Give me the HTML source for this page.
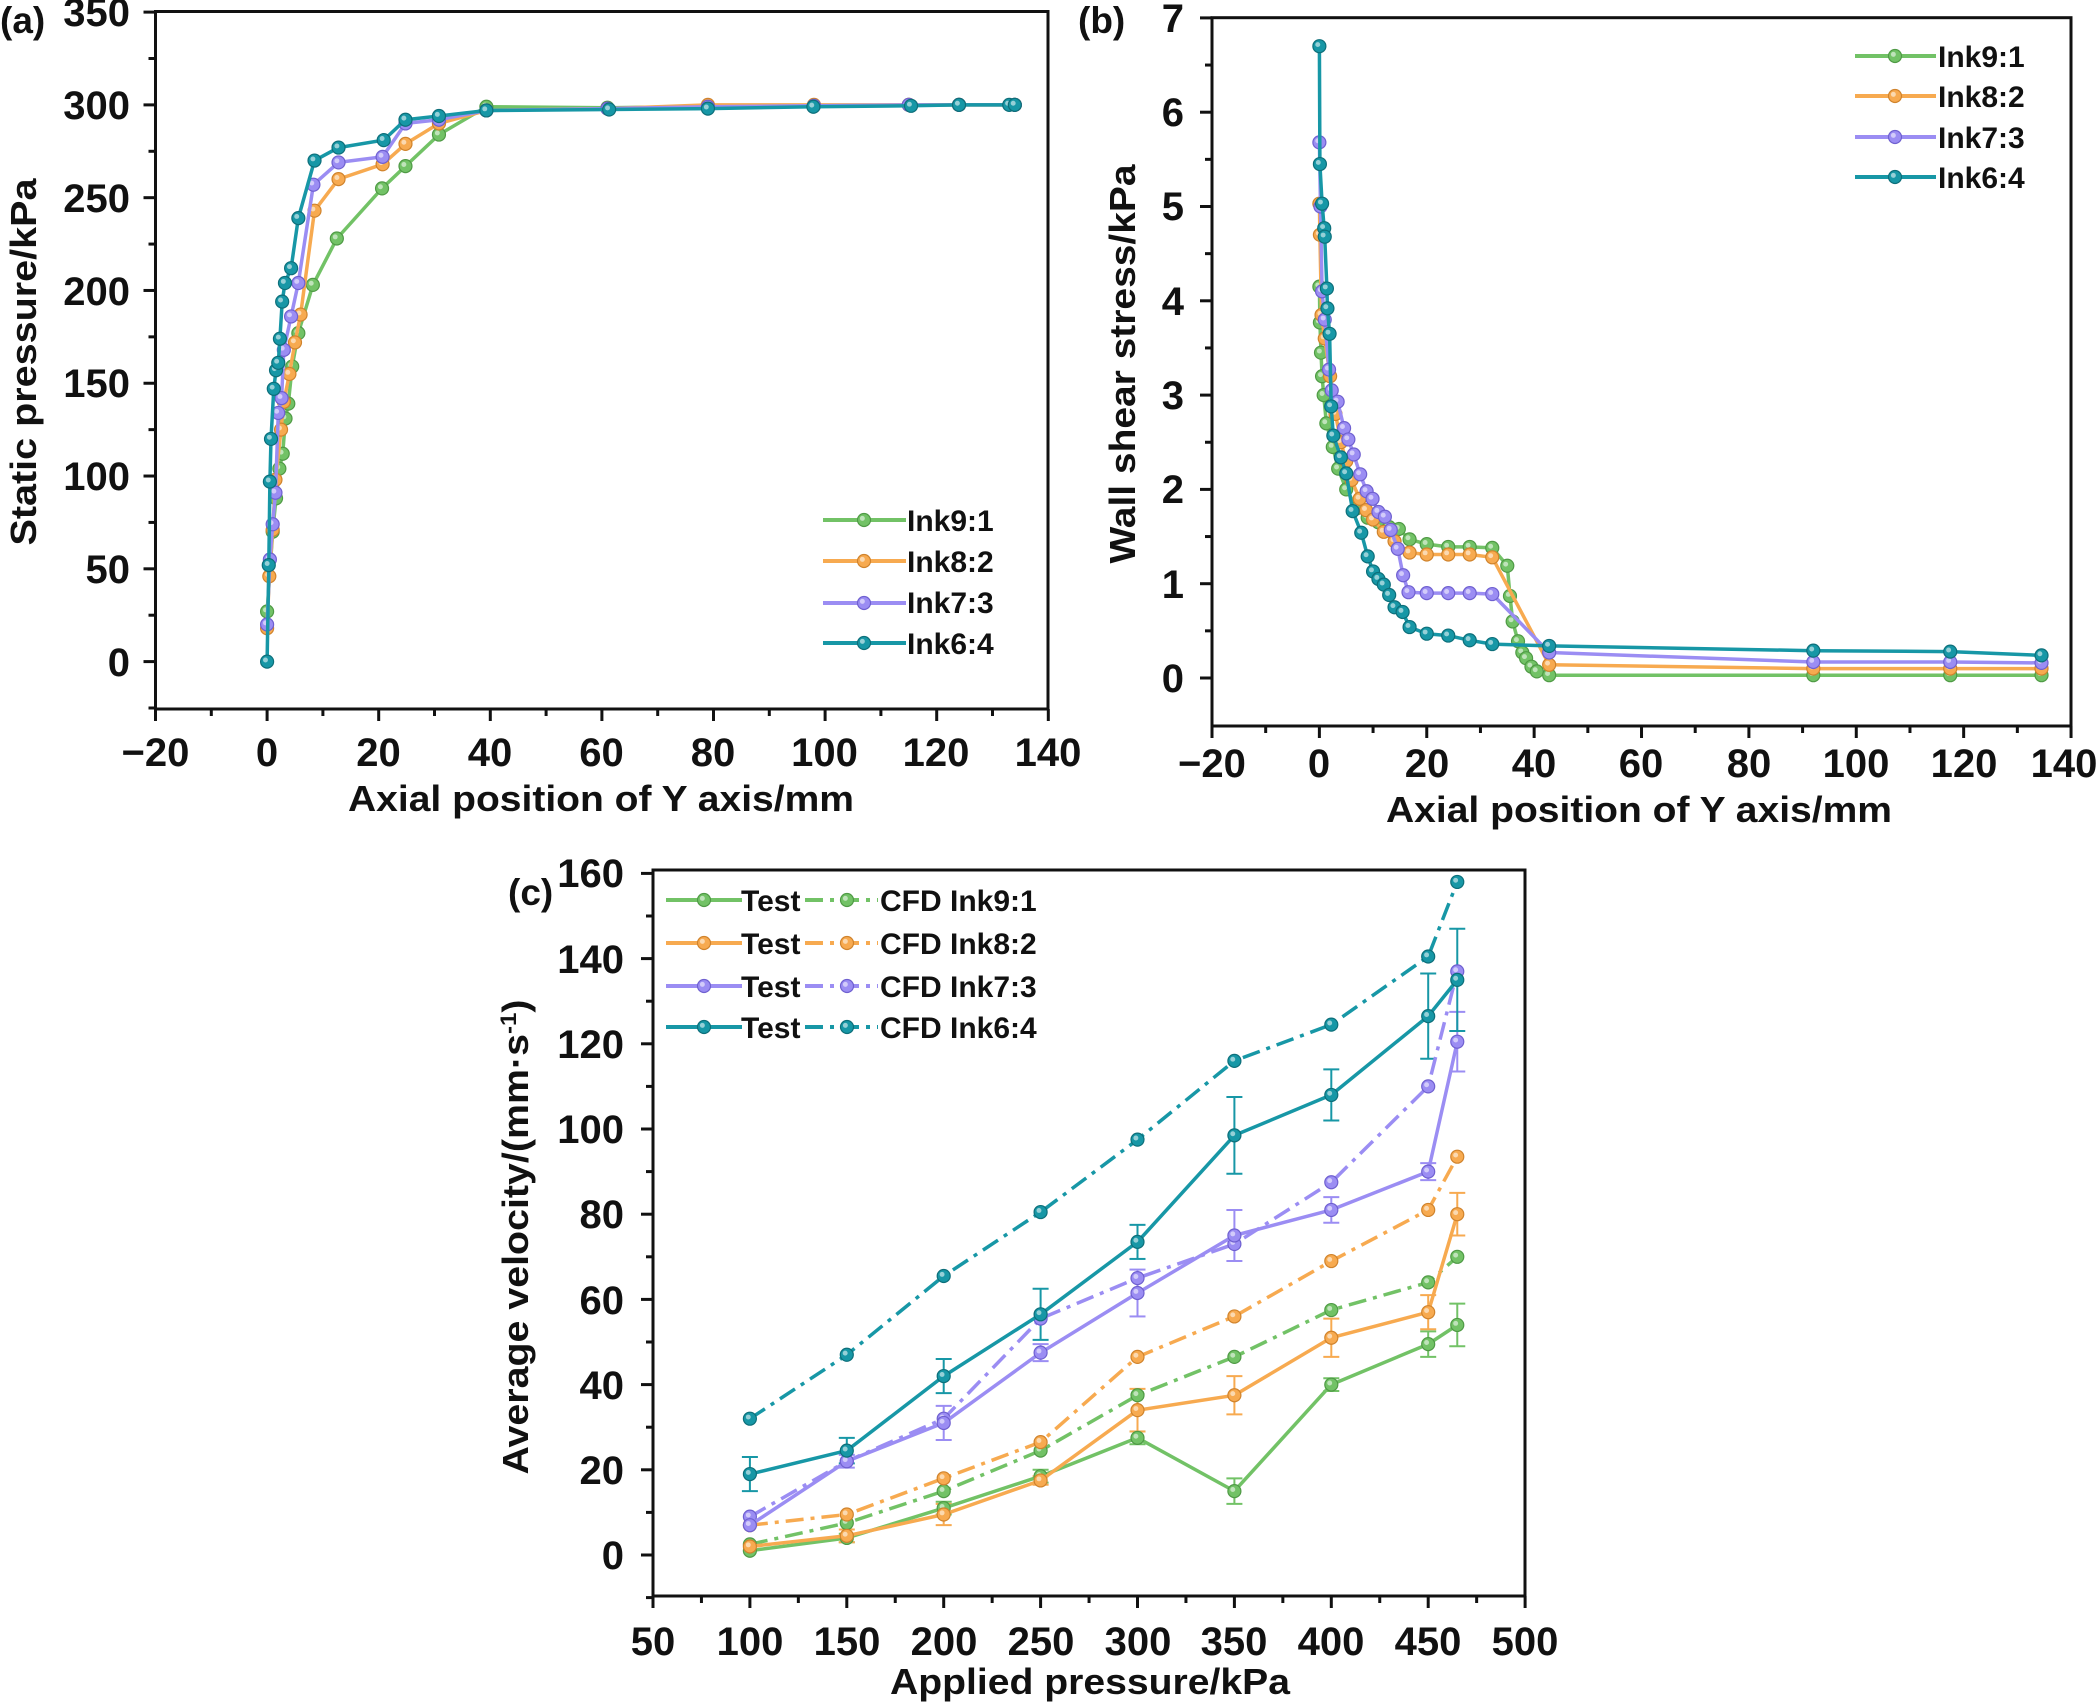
<!DOCTYPE html>
<html><head><meta charset="utf-8">
<style>
html,body{margin:0;padding:0;background:#fff;}
svg{display:block;font-family:"Liberation Sans",Arial,sans-serif;font-weight:bold;}
.t{font-size:40px;fill:#111;}
.ti{font-size:36px;fill:#111;}
.lg{font-size:30px;fill:#111;}
</style></head>
<body>
<svg id="s" width="2100" height="1704" viewBox="0 0 2100 1704" xmlns="http://www.w3.org/2000/svg">
<rect width="2100" height="1704" fill="#fff"/>
<g id="plots"></g>
<g fill="none" stroke="#111" stroke-width="3">
<rect x="155.5" y="11.5" width="892.5" height="697.5"/>
<rect x="1212" y="17.7" width="859" height="708.3"/>
<rect x="653" y="870" width="872" height="726"/>
</g>
<g id="ticks" stroke="#111" stroke-width="3"></g>

<text x="0" y="33" class="ti" style="font-size:37px">(a)</text>
<g class="t" text-anchor="end">
<text x="130" y="676">0</text><text x="130" y="583">50</text><text x="130" y="490">100</text><text x="130" y="397">150</text><text x="130" y="305">200</text><text x="130" y="212">250</text><text x="130" y="119">300</text><text x="130" y="26">350</text>
</g>
<g class="t" text-anchor="middle">
<text x="155.5" y="766">−20</text><text x="267" y="766">0</text><text x="378.5" y="766">20</text><text x="490" y="766">40</text><text x="601.5" y="766">60</text><text x="713" y="766">80</text><text x="824.5" y="766">100</text><text x="936" y="766">120</text><text x="1048" y="766">140</text>
</g>
<text x="601" y="811" class="ti" text-anchor="middle" textLength="506" lengthAdjust="spacingAndGlyphs">Axial position of Y axis/mm</text>
<text transform="translate(36,362) rotate(-90)" class="ti" text-anchor="middle" textLength="367" lengthAdjust="spacingAndGlyphs">Static pressure/kPa</text>
<g class="lg">
<text x="907" y="531">Ink9:1</text><text x="907" y="572">Ink8:2</text><text x="907" y="613">Ink7:3</text><text x="907" y="654">Ink6:4</text>
</g>

<text x="1078" y="33" class="ti" style="font-size:37px">(b)</text>
<g class="t" text-anchor="end">
<text x="1184" y="692">0</text><text x="1184" y="598">1</text><text x="1184" y="503">2</text><text x="1184" y="409">3</text><text x="1184" y="315">4</text><text x="1184" y="220">5</text><text x="1184" y="126">6</text><text x="1184" y="32">7</text>
</g>
<g class="t" text-anchor="middle">
<text x="1212" y="777">−20</text><text x="1319" y="777">0</text><text x="1427" y="777">20</text><text x="1534" y="777">40</text><text x="1641" y="777">60</text><text x="1749" y="777">80</text><text x="1856" y="777">100</text><text x="1964" y="777">120</text><text x="2064" y="777">140</text>
</g>
<text x="1639" y="822" class="ti" text-anchor="middle" textLength="506" lengthAdjust="spacingAndGlyphs">Axial position of Y axis/mm</text>
<text transform="translate(1135,364) rotate(-90)" class="ti" text-anchor="middle" textLength="399" lengthAdjust="spacingAndGlyphs">Wall shear stress/kPa</text>
<g class="lg">
<text x="1938" y="67">Ink9:1</text><text x="1938" y="107">Ink8:2</text><text x="1938" y="148">Ink7:3</text><text x="1938" y="188">Ink6:4</text>
</g>

<text x="508" y="905" class="ti" style="font-size:37px">(c)</text>
<g class="t" text-anchor="end">
<text x="624" y="1569">0</text><text x="624" y="1484">20</text><text x="624" y="1399">40</text><text x="624" y="1314">60</text><text x="624" y="1228">80</text><text x="624" y="1143">100</text><text x="624" y="1058">120</text><text x="624" y="973">140</text><text x="624" y="887">160</text>
</g>
<g class="t" text-anchor="middle">
<text x="653" y="1655">50</text><text x="750" y="1655">100</text><text x="847" y="1655">150</text><text x="944" y="1655">200</text><text x="1041" y="1655">250</text><text x="1138" y="1655">300</text><text x="1234" y="1655">350</text><text x="1331" y="1655">400</text><text x="1428" y="1655">450</text><text x="1525" y="1655">500</text>
</g>
<text x="1090" y="1694" class="ti" text-anchor="middle" textLength="400" lengthAdjust="spacingAndGlyphs">Applied pressure/kPa</text>
<text transform="translate(528,1237) rotate(-90)" class="ti" text-anchor="middle" textLength="475" lengthAdjust="spacingAndGlyphs">Average velocity/(mm·s<tspan dy="-12" style="font-size:22px">-1</tspan><tspan dy="12">)</tspan></text>
<g class="lg">
<text x="741" y="911">Test</text><text x="741" y="954">Test</text><text x="741" y="997">Test</text><text x="741" y="1038">Test</text>
<text x="880" y="911">CFD Ink9:1</text><text x="880" y="954">CFD Ink8:2</text><text x="880" y="997">CFD Ink7:3</text><text x="880" y="1038">CFD Ink6:4</text>
</g>
</svg>
<script>
var NS="http://www.w3.org/2000/svg";
var P=document.getElementById("plots"),T=document.getElementById("ticks");
var C={g:"#72c266",o:"#f7aa50",p:"#9b8df3",t:"#1797a6"};
var D={g:"#4f9a45",o:"#d0832c",p:"#6f60d0",t:"#0d6f7a"};
function el(n,a,par){var e=document.createElementNS(NS,n);for(var k in a)e.setAttribute(k,a[k]);(par||P).appendChild(e);return e;}
function series(pts,fx,fy,col,dash,r){
 var s=pts.map(function(p){return fx(p[0]).toFixed(1)+","+fy(p[1]).toFixed(1)}).join(" ");
 var a={points:s,fill:"none",stroke:C[col],"stroke-width":3.5,"stroke-linejoin":"round"};
 if(dash)a["stroke-dasharray"]="18,7,4,7";
 el("polyline",a);
 pts.forEach(function(p){marker(fx(p[0]),fy(p[1]),col,r||6.5);});
}
function marker(x,y,col,r){
 el("circle",{cx:x,cy:y,r:r,fill:C[col],stroke:D[col],"stroke-width":1.2});
 el("circle",{cx:x-r*0.25,cy:y-r*0.25,r:r*0.38,fill:"#fff","fill-opacity":0.55});
}
function line(x1,y1,x2,y2,par){el("line",{x1:x1,y1:y1,x2:x2,y2:y2},par||T);}
var ax=function(x){return 155.5+(x+20)*5.58},ay=function(y){return 661.6-y*1.8557};
var a9=[[0,27],[1,70],[1.6,88],[2.2,104],[2.8,112],[3.3,131],[3.8,139],[4.5,159],[5.6,177],[8.2,203],[12.5,228],[20.6,255],[24.8,267],[30.8,284],[39.3,299],[61,298.5],[79,299],[98,299.5],[115,300],[124,300],[134,300]];
var a8=[[0,18],[0.4,46],[1,71],[1.5,98],[2.5,125],[3,140],[4,155],[5,172],[6,187],[8.5,243],[12.8,260],[20.7,268],[24.8,279],[30.8,290],[39.3,297],[61,298],[79,300],[98,300],[115,300],[124,300],[134,300]];
var a7=[[0,20],[0.5,55],[1,74],[1.5,91],[2,134],[2.6,142],[3,168],[4.3,186],[5.6,204],[8.3,257],[12.8,269],[20.7,272],[24.8,290],[30.8,292],[39.3,297],[61,298],[79,299],[98,299.5],[115,300],[124,300],[134,300]];
var a6=[[0,0],[0.3,52],[0.5,97],[0.7,120],[1.2,147],[1.6,157],[2,161],[2.3,174],[2.7,194],[3.2,204],[4.3,212],[5.6,239],[8.5,270],[12.8,277],[20.9,281],[24.8,292],[30.8,294],[39.3,297],[61.3,297.5],[79,298],[97.9,299],[115.4,299.5],[124,300],[133,300],[134,300]];
series(a9,ax,ay,"g");series(a8,ax,ay,"o");series(a7,ax,ay,"p");series(a6,ax,ay,"t");
var bx=function(x){return 1212+(x+20)*5.369},by=function(y){return 678-y*94.3};
var b9=[[0,4.15],[0.1,3.77],[0.3,3.45],[0.5,3.2],[0.8,3.0],[1.3,2.7],[2.5,2.45],[3.5,2.22],[5,2.0],[7,1.8],[9,1.7],[11,1.65],[13,1.6],[14.8,1.58],[16.8,1.47],[20,1.42],[24,1.39],[28,1.39],[32.2,1.38],[35,1.19],[35.5,0.87],[36,0.6],[37,0.39],[37.8,0.27],[38.5,0.21],[39.5,0.12],[40.5,0.07],[42.8,0.03],[92,0.03],[117.5,0.03],[134.5,0.03]];
var b8=[[0,5.03],[0.1,4.7],[0.4,3.85],[1,3.6],[2,3.2],[3,2.8],[4,2.5],[5,2.3],[6,2.1],[7.5,1.9],[8.7,1.78],[10,1.68],[12,1.55],[14,1.45],[16.8,1.33],[20,1.31],[24,1.31],[28,1.31],[32.2,1.28],[42.8,0.14],[92,0.1],[117.5,0.1],[134.5,0.1]];
var b7=[[0,5.68],[0.2,5.0],[0.5,4.1],[1,3.8],[1.8,3.27],[2.3,3.05],[3.4,2.93],[4.6,2.65],[5.4,2.53],[6.4,2.37],[7.6,2.16],[8.8,1.98],[9.9,1.9],[11,1.76],[12.2,1.71],[13.3,1.57],[14.6,1.37],[15.6,1.09],[16.6,0.91],[20,0.9],[24,0.9],[28,0.9],[32.2,0.89],[42.8,0.27],[92,0.17],[117.5,0.17],[134.5,0.16]];
var b6=[[0,6.7],[0.1,5.45],[0.5,5.03],[0.9,4.77],[1,4.68],[1.4,4.13],[1.5,3.92],[1.9,3.65],[2.2,2.88],[2.6,2.57],[4,2.34],[5,2.17],[6.2,1.77],[7.8,1.54],[9,1.29],[10,1.13],[11,1.05],[12,0.99],[13,0.88],[14,0.75],[15.5,0.7],[16.8,0.54],[20,0.47],[24,0.45],[28,0.4],[32.2,0.36],[42.8,0.34],[92,0.29],[117.5,0.28],[134.5,0.24]];
series(b9,bx,by,"g");series(b8,bx,by,"o");series(b7,bx,by,"p");series(b6,bx,by,"t");
var cx=function(x){return 653+(x-50)*1.938},cy=function(y){return 1555-y*4.26};
var X=[100,150,200,250,300,350,400,450,465];
function mk(v){return v.map(function(y,i){return [X[i],y]});}
function err(v,e,col){v.forEach(function(y,i){if(!e[i])return;var x=cx(X[i]);var g={stroke:C[col],"stroke-width":2};
 el("line",Object.assign({x1:x,y1:cy(y-e[i]),x2:x,y2:cy(y+e[i])},g));
 el("line",Object.assign({x1:x-8,y1:cy(y-e[i]),x2:x+8,y2:cy(y-e[i])},g));
 el("line",Object.assign({x1:x-8,y1:cy(y+e[i]),x2:x+8,y2:cy(y+e[i])},g));});}
var tg=[1,4,11,18.5,27.5,15,40,49.5,54],cg=[2.5,7.5,15,24.5,37.5,46.5,57.5,64,70];
var to=[2,4.5,9.5,17.5,34,37.5,51,57,80],co=[7,9.5,18,26.5,46.5,56,69,81,93.5];
var tp=[7,22,31,47.5,61.5,75,81,90,120.5],cp=[9,22,32,55.5,65,73,87.5,110,137];
var tt=[19,24.5,42,56.5,73.5,98.5,108,126.5,135],ct=[32,47,65.5,80.5,97.5,116,124.5,140.5,158];
err(tg,[0,1,1.5,1.5,1.5,3,1.5,3,5],"g");err(to,[0,1.5,2.5,1,5,4.5,4.5,4,5],"o");
err(tp,[0,1.5,4,2,5.5,6,3,2,7],"p");err(tt,[4,3,4,6,4,9,6,10,12],"t");
series(mk(cg),cx,cy,"g",1);series(mk(tg),cx,cy,"g");
series(mk(co),cx,cy,"o",1);series(mk(to),cx,cy,"o");
series(mk(cp),cx,cy,"p",1);series(mk(tp),cx,cy,"p");
series(mk(ct),cx,cy,"t",1);series(mk(tt),cx,cy,"t");
[["g",520],["o",561],["p",603],["t",643]].forEach(function(r){el("line",{x1:823,y1:r[1],x2:906,y2:r[1],stroke:C[r[0]],"stroke-width":4});marker(864,r[1],r[0],6.5);});
[["g",56],["o",96],["p",137],["t",177]].forEach(function(r){el("line",{x1:1855,y1:r[1],x2:1936,y2:r[1],stroke:C[r[0]],"stroke-width":4});marker(1895,r[1],r[0],6.5);});
[["g",900],["o",943],["p",986],["t",1027]].forEach(function(r){
 el("line",{x1:666,y1:r[1],x2:742,y2:r[1],stroke:C[r[0]],"stroke-width":4});marker(704,r[1],r[0],6.5);
 el("line",{x1:805,y1:r[1],x2:878,y2:r[1],stroke:C[r[0]],"stroke-width":4,"stroke-dasharray":"18,7,4,7"});marker(847,r[1],r[0],6.5);});
function xt(f,y0,vals,len){vals.forEach(function(v){line(f(v),y0,f(v),y0+len);});}
function yt(f,x0,vals,len){vals.forEach(function(v){line(x0,f(v),x0-len,f(v));});}
var r=function(a,b,s){var o=[];for(var v=a;v<=b+1e-9;v+=s)o.push(v);return o;};
xt(ax,709,r(-20,140,20),12);xt(ax,709,r(-10,130,20),7);yt(ay,155.5,r(0,350,50),12);yt(ay,155.5,r(-25,325,50),7);
xt(bx,726,r(-20,140,20),12);xt(bx,726,r(-10,130,20),7);yt(by,1212,r(0,7,1),12);yt(by,1212,r(0.5,6.5,1),7);
xt(cx,1596,r(50,500,50),12);xt(cx,1596,r(75,475,50),7);yt(cy,653,r(0,160,20),12);yt(cy,653,r(-10,150,20),7);
</script>
</body></html>
